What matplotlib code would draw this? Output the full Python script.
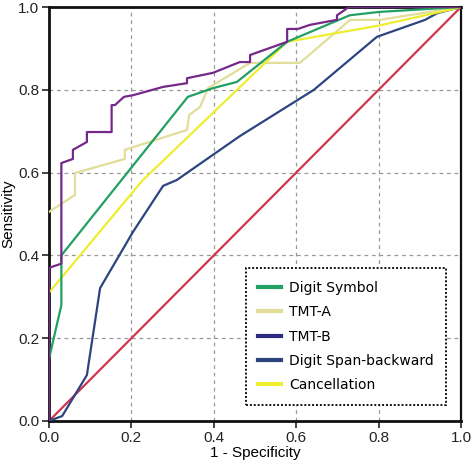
import numpy as np
import matplotlib
matplotlib.use("Agg")
import matplotlib.pyplot as plt

# ROC curves
ds_x = [0, 0.03, 0.03, 0.337, 0.398, 0.456, 0.578, 0.73, 0.80, 1.0]
ds_y = [0.15, 0.28, 0.40, 0.783, 0.804, 0.819, 0.916, 0.98, 0.988, 1.0]

tmta_x = [0, 0.063, 0.063, 0.184, 0.184, 0.335, 0.34, 0.367, 0.386, 0.488, 0.609, 0.731, 0.803, 1.0]
tmta_y = [0.505, 0.546, 0.599, 0.633, 0.655, 0.703, 0.739, 0.759, 0.804, 0.865, 0.865, 0.969, 0.969, 1.0]

tmtb_x = [0, 0, 0.03, 0.03, 0.058, 0.058, 0.092, 0.092, 0.152, 0.152, 0.16, 0.182, 0.204,
          0.277, 0.335, 0.335, 0.398, 0.463, 0.488, 0.488, 0.578, 0.578, 0.604, 0.634,
          0.699, 0.699, 0.728, 1.0]
tmtb_y = [0, 0.37, 0.38, 0.623, 0.633, 0.655, 0.674, 0.698, 0.698, 0.763, 0.763, 0.783, 0.787,
          0.807, 0.816, 0.828, 0.841, 0.867, 0.867, 0.884, 0.916, 0.947, 0.947, 0.957,
          0.969, 0.98, 1.0, 1.0]

dsb_x = [0, 0.032, 0.092, 0.124, 0.204, 0.277, 0.31, 0.463, 0.643, 0.796, 0.913, 0.942, 1.0]
dsb_y = [0, 0.012, 0.111, 0.321, 0.457, 0.568, 0.582, 0.688, 0.80, 0.928, 0.969, 0.985, 1.0]

can_x = [0, 0.226, 0.578, 0.80, 0.98, 1.0]
can_y = [0.31, 0.58, 0.916, 0.955, 0.995, 1.0]

ref_x = [0, 1]
ref_y = [0, 1]

ticks = [0.0, 0.2, 0.4, 0.6, 0.8, 1.0]

fig = plt.figure(figsize=(4.74, 4.66), dpi=100)
ax = fig.add_axes([49 / 474, 45 / 466, 412 / 474, 414 / 466])

lw = 1.6
ax.plot(ref_x, ref_y, color="#d0354f", lw=lw, zorder=2)
ax.plot(dsb_x, dsb_y, color="#2c4480", lw=lw, label="Digit Span-backward", zorder=3)
ax.plot(tmta_x, tmta_y, color="#e2dd98", lw=lw, label="TMT-A", zorder=3)
ax.plot(can_x, can_y, color="#eeee30", lw=lw, label="Cancellation", zorder=4)
ax.plot(ds_x, ds_y, color="#22a063", lw=lw, label="Digit Symbol", zorder=5)
ax.plot(tmtb_x, tmtb_y, color="#74298a", lw=lw, label="TMT-B", zorder=6)

ax.set_xlim(0, 1)
ax.set_ylim(0, 1)
ax.set_xticks(ticks)
ax.set_yticks(ticks)
ax.set_xticklabels(["%.1f" % t for t in ticks], family="Liberation Sans", fontsize=11)
ax.set_yticklabels(["%.1f" % t for t in ticks], family="Liberation Sans", fontsize=11)
ax.tick_params(direction="out", length=5, width=1.2, pad=2, colors="#222222")
ax.grid(True, color="#999999", ls=(0, (3, 3)), lw=0.9)
ax.set_axisbelow(True)

for s in ["left", "bottom", "top"]:
    ax.spines[s].set_linewidth(2)
    ax.spines[s].set_color("#111111")
ax.spines["right"].set_linewidth(1.6)
ax.spines["right"].set_linestyle((0, (1, 1)))
ax.spines["right"].set_color("#111111")

ax.set_xlabel("1 - Specificity", family="Liberation Sans", fontsize=11, labelpad=1)
ax.set_ylabel("Sensitivity", family="Liberation Sans", fontsize=11, labelpad=2)

# legend order as in the picture
h, l = ax.get_legend_handles_labels()
order = ["Digit Symbol", "TMT-A", "TMT-B", "Digit Span-backward", "Cancellation"]
hd = dict(zip(l, h))
from matplotlib.lines import Line2D
handles = [Line2D([], [], color=hd[k].get_color(), lw=3) for k in order]
handles[2].set_color("#2a2a80")
leg = ax.legend(handles, order, loc="lower right", bbox_to_anchor=(0.964, 0.039),
                fontsize=10, frameon=True, fancybox=False, handlelength=1.6,
                handletextpad=0.6, labelspacing=0.75, borderpad=0.9, borderaxespad=0)
fr = leg.get_frame()
fr.set_edgecolor("#111111")
fr.set_linestyle((0, (1, 1)))
fr.set_linewidth(1.4)
fr.set_facecolor("white")
fr.set_alpha(1)

fig.savefig("out.png", dpi=100)
